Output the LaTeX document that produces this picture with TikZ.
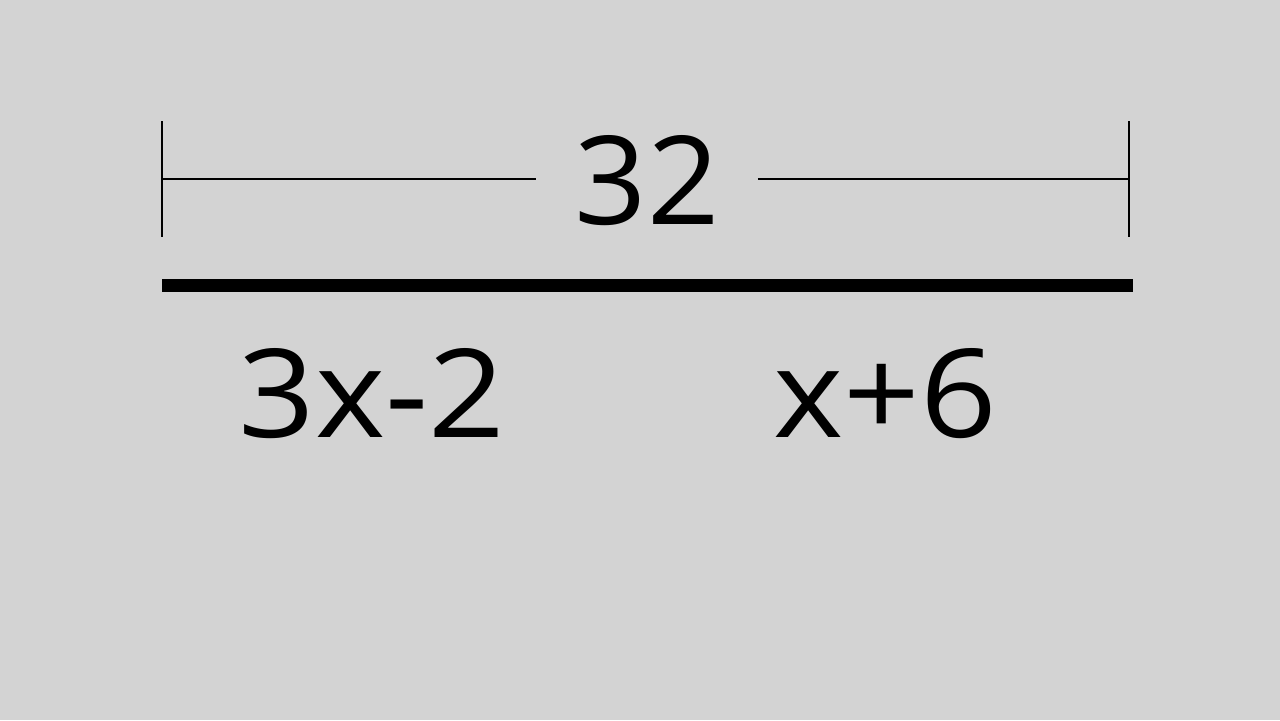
\documentclass[tikz,border=0pt]{standalone}
\usepackage{fontspec}
\setmainfont{Open Sans}
\definecolor{bggray}{RGB}{211,211,211}

\begin{document}
\begin{tikzpicture}[x=0.02cm,y=-0.02cm,
        lbl/.style={font=\fontsize{70}{84}\selectfont,inner sep=0pt},
        thin line/.style={line width=1.1pt,black}]
                \fill[bggray] (0,0) rectangle (1280,720);
                \useasboundingbox (0,0) rectangle (1280,720);
                % total length
                \coordinate (lt) at (162,121);
                \coordinate (lb) at (162,237);
                \coordinate (rt) at (1129,121);
                \coordinate (rb) at (1129,237);
                \draw[thin line] (lt)--(lb);
                \draw[thin line] (rt)--(rb);
                \node[lbl,inner xsep=0.76cm] (total) at (647,181) {\scalebox{1.03}[1]{32}};
                \draw[thin line] (162,179)--(total.west |- 0,179);
                \draw[thin line] (total.east |- 0,179)--(1129,179);
                % segment
                \coordinate (sa) at (162,285.5);
                \coordinate (sb) at (1133,285.5);
                \draw[line width=7.4pt] (sa)--(sb);
                \node[lbl] (left) at (372,394) {\scalebox{1.09}[1]{3x-2}};
                \node[lbl] (right) at (885,394) {\scalebox{1.09}[1]{x+6}};
            \end{tikzpicture}
\end{document}
